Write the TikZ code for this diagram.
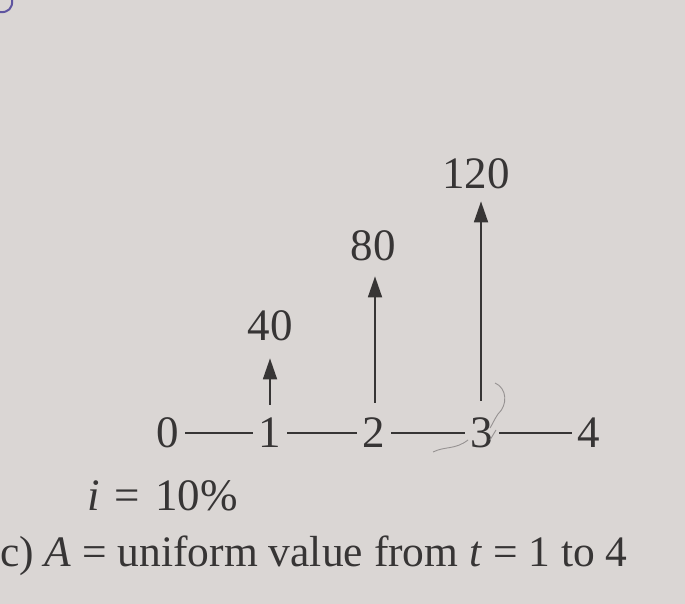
\documentclass[tikz,border=0pt]{standalone}
\usepackage{fontspec}
\setmainfont{Liberation Serif}
\usetikzlibrary{arrows.meta}
\definecolor{paper}{RGB}{218,214,212}
\definecolor{ink}{RGB}{55,53,53}
\definecolor{pencil}{RGB}{150,146,146}
\definecolor{pen}{RGB}{95,85,160}
\begin{document}
\begin{tikzpicture}[x=1pt,y=-1pt,
  lbl/.style={text=ink,font=\fontsize{45}{50}\selectfont,inner sep=0pt},
  tick/.style={lbl,inner sep=6pt},
  axis/.style={draw=ink,line width=1.8pt},
  flow/.style={draw=ink,line width=1.8pt,-{Triangle[length=21pt,width=14pt]}},
  pencilmark/.style={draw=pencil,line width=0.9pt}]
\fill[paper] (0,0) rectangle (685,604);
\useasboundingbox (0,0) rectangle (685,604);
% time axis
\node[tick] (n0) at (168,433) {0};
\node[tick] (n1) at (270,433) {1};
\node[tick] (n2) at (374,433) {2};
\node[tick] (n3) at (482,433) {3};
\node[tick] (n4) at (589,433) {4};
\draw[axis] (n0) -- (n1);
\draw[axis] (n1) -- (n2);
\draw[axis] (n2) -- (n3);
\draw[axis] (n3) -- (n4);
% cash flows
\node[lbl] (l40) at (270,326) {40};
\node[lbl] (l80) at (373,246) {80};
\node[lbl] (l120) at (476,174) {120};
\draw[flow] ([yshift=7pt]n1.north) -- ([yshift=-17pt]l40.south);
\draw[flow] ([xshift=1pt,yshift=9pt]n2.north) -- ([xshift=2pt,yshift=-15pt]l80.south);
\draw[flow] ([xshift=-1pt,yshift=11pt]n3.north) -- ([xshift=5pt,yshift=-12pt]l120.south);
% texts
\node[lbl,anchor=west] (rate) at (87,496) {\textit{i}\,\,=\,\,10\%};
\node[lbl,anchor=west,font=\fontsize{43.5}{48}\selectfont] (task) at (0,556) {c) \textit{A} = uniform value from \textit{t} = 1 to 4};
% pencil marks
\draw[pencilmark] (495,383) .. controls (507,388) and (508,405) .. (498,414) .. controls (494,420) and (492,425) .. (490,428);
\draw[pencilmark] (496,430) -- (490,440);
\draw[pencilmark] (433,452) .. controls (445,446) and (455,450) .. (468,440);
\draw[pen,line width=2pt] (0,12) .. controls (8,13) and (13,8) .. (12,0);
\end{tikzpicture}
\end{document}
